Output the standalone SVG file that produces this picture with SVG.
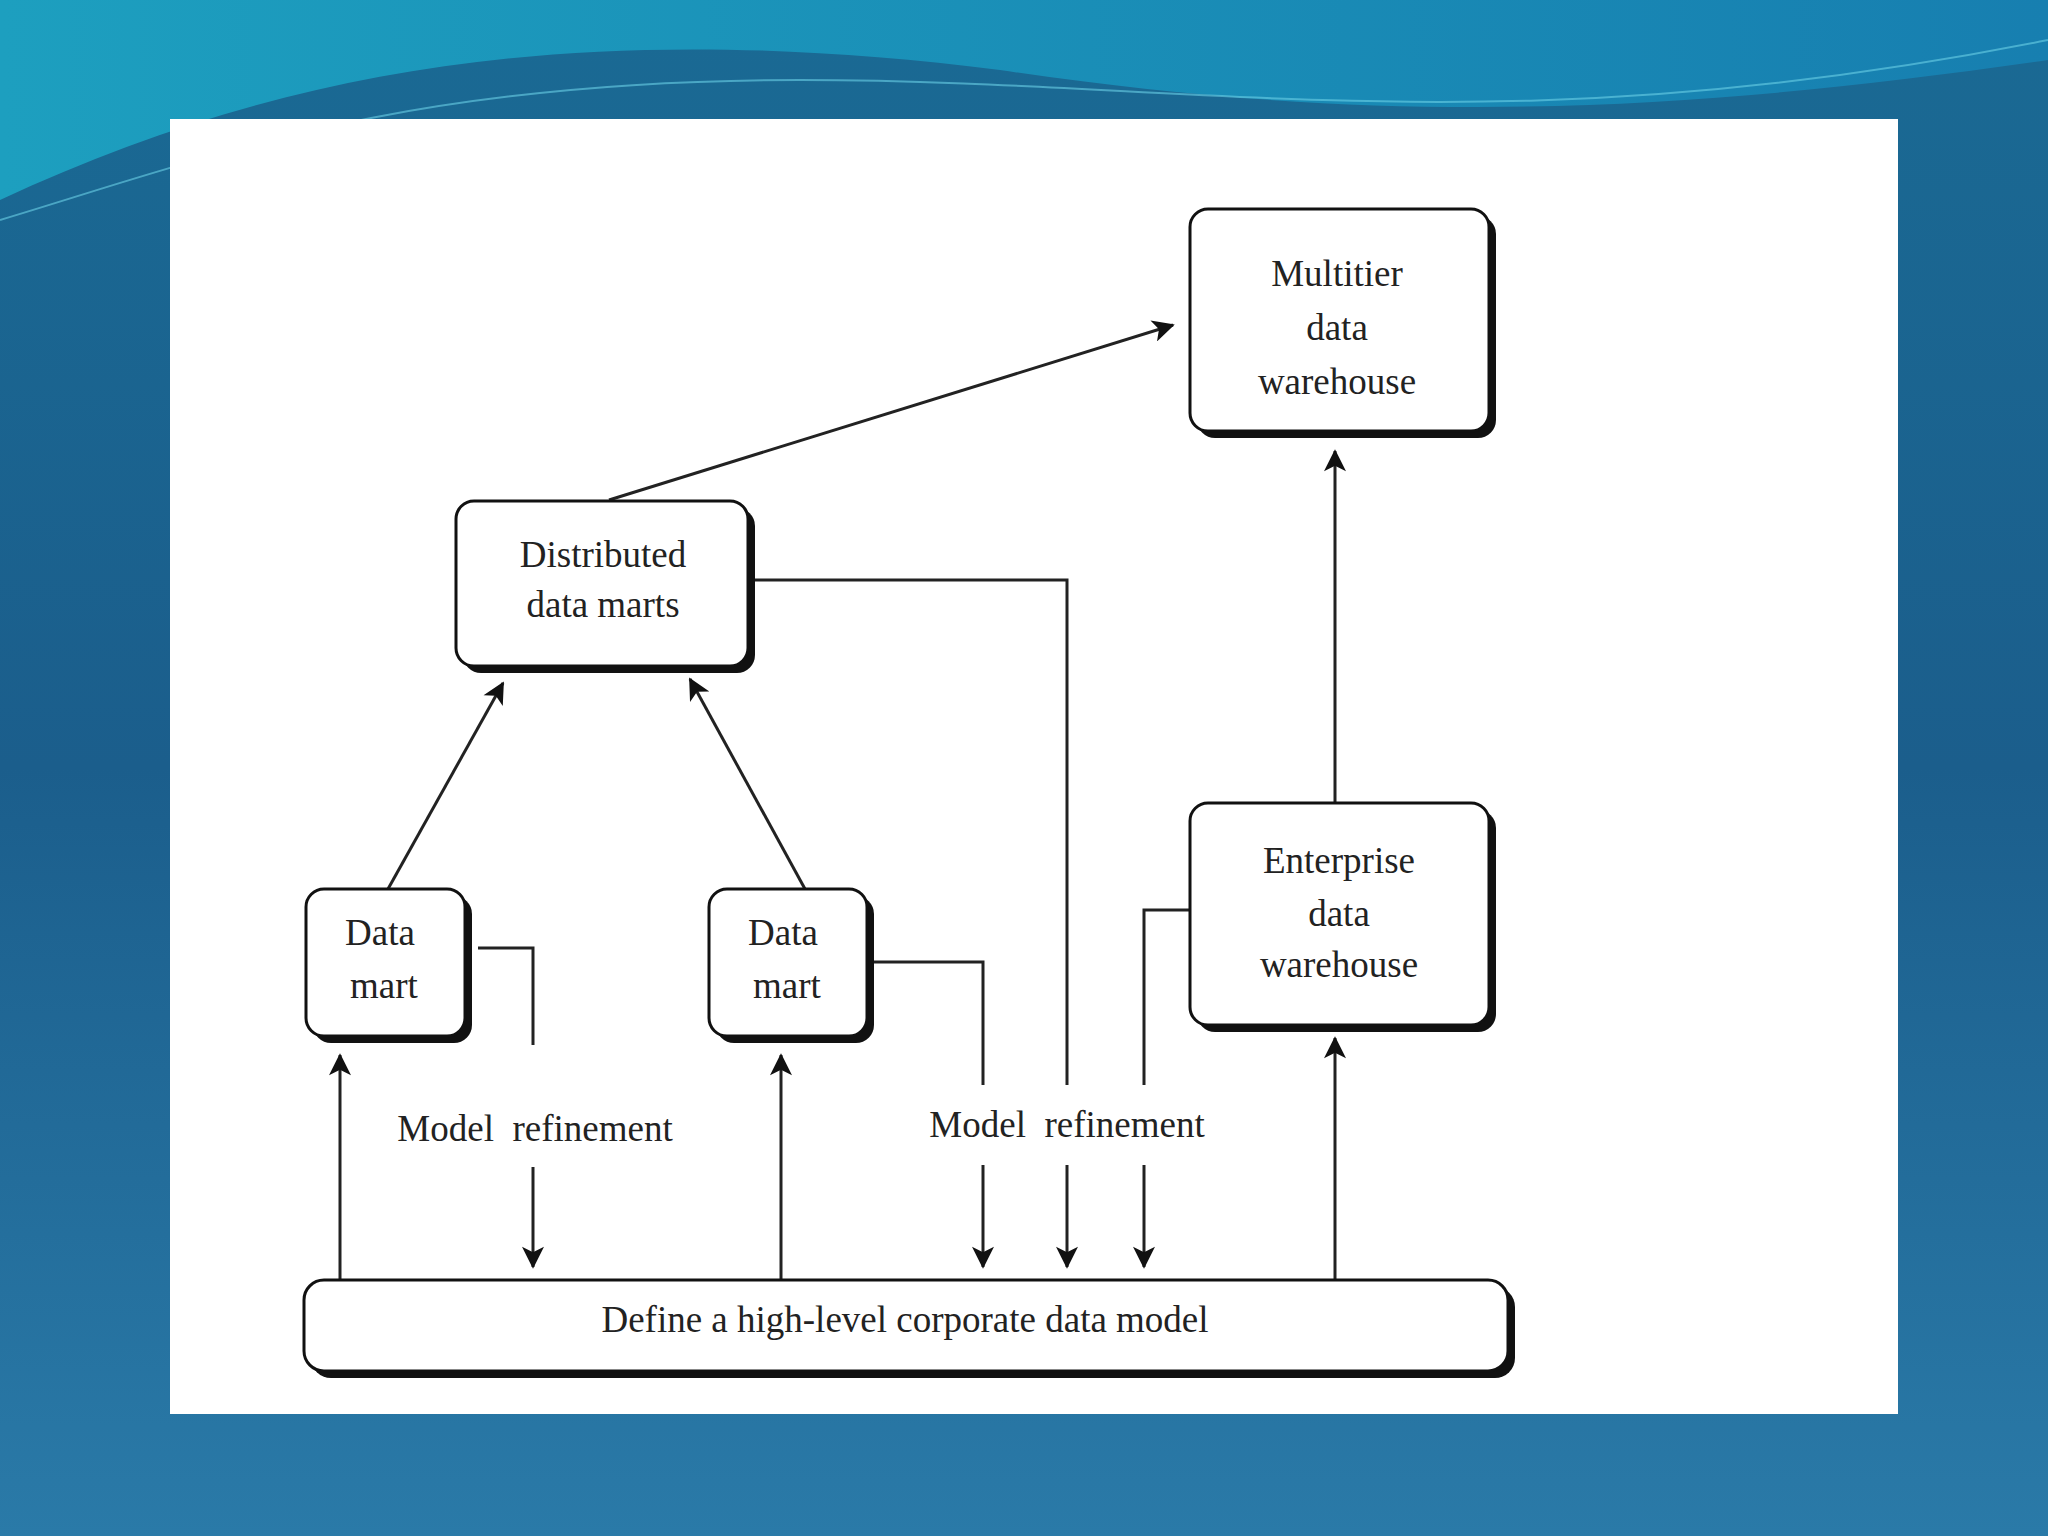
<svg xmlns="http://www.w3.org/2000/svg" width="2048" height="1536" viewBox="0 0 2048 1536">
<defs>
<linearGradient id="bg" x1="0" y1="0" x2="0" y2="1"><stop offset="0" stop-color="#1a6a94"/><stop offset="0.5" stop-color="#1b5e8c"/><stop offset="1" stop-color="#2a7aa8"/></linearGradient>
<linearGradient id="wave" x1="0" y1="0" x2="1" y2="0"><stop offset="0" stop-color="#1d9fbf"/><stop offset="1" stop-color="#177fb0"/></linearGradient>
<marker id="ah" viewBox="0 0 12 12" refX="11" refY="6" markerWidth="24" markerHeight="22" markerUnits="userSpaceOnUse" orient="auto"><path d="M0,0 L12,6 L0,12 L3,6 Z" fill="#111"/></marker>
<style>
.box{fill:#fff;stroke:#111;stroke-width:3}
.sh{fill:#111}
.t{font-family:"Liberation Serif","Times New Roman",serif;font-size:37px;fill:#222;text-anchor:middle}
.c{fill:none;stroke:#222;stroke-width:3}
.a{fill:none;stroke:#222;stroke-width:3;marker-end:url(#ah)}
</style>
</defs>
<rect width="2048" height="1536" fill="url(#bg)"/>
<path d="M0,0 H2048 V60 C1700,110 1400,130 1000,70 C600,20 300,60 0,200 Z" fill="url(#wave)"/>
<path d="M0,220 C200,160 400,80 800,80 C1200,80 1500,150 2048,40" fill="none" stroke="#6ad0e6" stroke-width="2" opacity="0.6"/>
<rect x="170" y="119" width="1728" height="1295" fill="#fff"/>
<g id="connectors">
<line class="a" x1="609" y1="500" x2="1173" y2="325"/>
<line class="a" x1="388" y1="889" x2="503" y2="683"/>
<line class="a" x1="805" y1="889" x2="690" y2="679"/>
<line class="a" x1="1335" y1="802" x2="1335" y2="451"/>
<line class="a" x1="340" y1="1280" x2="340" y2="1055"/>
<line class="a" x1="781" y1="1280" x2="781" y2="1055"/>
<line class="a" x1="1335" y1="1280" x2="1335" y2="1038"/>
<polyline class="c" points="478,948 533,948 533,1045"/>
<line class="a" x1="533" y1="1167" x2="533" y2="1267"/>
<polyline class="c" points="872,962 983,962 983,1085"/>
<line class="a" x1="983" y1="1165" x2="983" y2="1267"/>
<polyline class="c" points="755,580 1067,580 1067,1085"/>
<line class="a" x1="1067" y1="1165" x2="1067" y2="1267"/>
<polyline class="c" points="1190,910 1144,910 1144,1085"/>
<line class="a" x1="1144" y1="1165" x2="1144" y2="1267"/>
<text class="t" x="535" y="1141" xml:space="preserve">Model  refinement</text>
<text class="t" x="1067" y="1137" xml:space="preserve">Model  refinement</text>
</g>
<g id="multitier"><rect class="sh" x="1197" y="216" width="299" height="222" rx="18"/><rect class="box" x="1190" y="209" width="299" height="222" rx="18"/>
<text class="t" x="1337" y="286">Multitier</text><text class="t" x="1337" y="340">data</text><text class="t" x="1337" y="394">warehouse</text></g>
<g id="distributed"><rect class="sh" x="463" y="508" width="292" height="165" rx="18"/><rect class="box" x="456" y="501" width="292" height="165" rx="18"/>
<text class="t" x="603" y="567">Distributed</text><text class="t" x="603" y="617">data marts</text></g>
<g id="datamart1"><rect class="sh" x="313" y="896" width="159" height="147" rx="18"/><rect class="box" x="306" y="889" width="159" height="147" rx="18"/>
<text class="t" x="380" y="945">Data</text><text class="t" x="384" y="998">mart</text></g>
<g id="datamart2"><rect class="sh" x="716" y="896" width="158" height="147" rx="18"/><rect class="box" x="709" y="889" width="158" height="147" rx="18"/>
<text class="t" x="783" y="945">Data</text><text class="t" x="787" y="998">mart</text></g>
<g id="enterprise"><rect class="sh" x="1197" y="810" width="299" height="222" rx="18"/><rect class="box" x="1190" y="803" width="299" height="222" rx="18"/>
<text class="t" x="1339" y="873">Enterprise</text><text class="t" x="1339" y="926">data</text><text class="t" x="1339" y="977">warehouse</text></g>
<g id="define"><rect class="sh" x="311" y="1287" width="1204" height="91" rx="20"/><rect class="box" x="304" y="1280" width="1204" height="91" rx="20"/>
<text class="t" x="905" y="1332">Define a high-level corporate data model</text></g>
</svg>
